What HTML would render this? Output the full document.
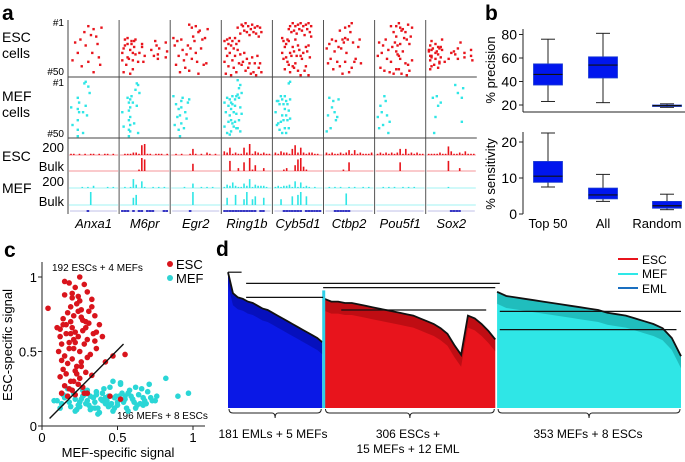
<!DOCTYPE html>
<html><head><meta charset="utf-8"><style>
html,body{margin:0;padding:0;background:#fff}
svg{display:block;font-family:"Liberation Sans",sans-serif}
</style></head><body>
<svg id="fig" width="685" height="462" viewBox="0 0 685 462" xmlns="http://www.w3.org/2000/svg">
<g id="pa">
<text x="2" y="20" font-size="21" font-weight="bold">a</text>
<text x="2" y="42" font-size="14">ESC</text>
<text x="2" y="58" font-size="14">cells</text>
<text x="2" y="101" font-size="14">MEF</text>
<text x="2" y="117" font-size="14">cells</text>
<text x="64" y="26" font-size="10" text-anchor="end">#1</text>
<text x="64" y="75" font-size="10" text-anchor="end">#50</text>
<text x="64" y="86" font-size="10" text-anchor="end">#1</text>
<text x="64" y="137" font-size="10" text-anchor="end">#50</text>
<text x="2" y="161" font-size="14">ESC</text>
<text x="64" y="152" font-size="13" text-anchor="end">200</text>
<text x="64" y="171" font-size="13" text-anchor="end">Bulk</text>
<text x="2" y="193" font-size="14">MEF</text>
<text x="64" y="186" font-size="13" text-anchor="end">200</text>
<text x="64" y="206" font-size="13" text-anchor="end">Bulk</text>
</g>
<g id="pb">
<text x="485" y="20" font-size="21" font-weight="bold">b</text>
<text transform="translate(495,70) rotate(-90)" font-size="13" text-anchor="middle">% precision</text>
<text transform="translate(495,174) rotate(-90)" font-size="13" text-anchor="middle">% sensitivity</text>
</g>
<g id="pc">
<text x="4" y="257" font-size="21" font-weight="bold">c</text>
<text transform="translate(12,345) rotate(-90)" font-size="13" text-anchor="middle">ESC-specific signal</text>
<text x="118" y="457" font-size="13" text-anchor="middle">MEF-specific signal</text>
<text x="52" y="271" font-size="10">192 ESCs + 4 MEFs</text>
<text x="117" y="419" font-size="10">196 MEFs + 8 ESCs</text>
<circle cx="170" cy="264" r="3" fill="#d9141c"/>
<text x="176" y="269" font-size="13">ESC</text>
<circle cx="170" cy="278" r="3" fill="#2fd3d3"/>
<text x="176" y="283" font-size="13">MEF</text>
</g>
<g id="pd">
<text x="216" y="256" font-size="21" font-weight="bold">d</text>
<line x1="618" y1="259" x2="638" y2="259" stroke="#e8141c" stroke-width="2"/>
<text x="642" y="264" font-size="12">ESC</text>
<line x1="618" y1="274" x2="638" y2="274" stroke="#2ee8e8" stroke-width="2"/>
<text x="642" y="278" font-size="12">MEF</text>
<line x1="618" y1="288" x2="638" y2="288" stroke="#1a6fc0" stroke-width="2"/>
<text x="642" y="293" font-size="12">EML</text>
<text x="273" y="438" font-size="12" text-anchor="middle">181 EMLs + 5 MEFs</text>
<text x="408" y="438" font-size="12" text-anchor="middle">306 ESCs +</text>
<text x="408" y="453" font-size="12" text-anchor="middle">15 MEFs + 12 EML</text>
<text x="588" y="438" font-size="12" text-anchor="middle">353 MEFs + 8 ESCs</text>
</g>
</svg>
<script>
// ---------- data ----------
const genes = ["Anxa1","M6pr","Egr2","Ring1b","Cyb5d1","Ctbp2","Pou5f1","Sox2"];
const escDots = ["1p3d5k7b8ta6bfd2dqf8gkh4hxj9kelnmsn3","0k1x2f3s4a5o6y7e8k8v9cab2bpc7cxdfe4eqf9gfgsh1hmi6iyjdkrlalomhmxn4nro8p0pgqcq","0a1f2s3c4m5x6b7i8p9ualbfc1cwdhe3eof9gchkh2iqj6jyk5lhmbnsoaprq4","0c0q1h1y2b2m3e3t4a4k5f5z6c6p7h7u8a8m9e9xa3aibcbrc7cld1dse2eqf5fkg0gwh6hoi2iuj8jrk4kyl1lnm6mxn3nro7ozp2pmq9qur3rrs6sx","5a5k6c6o7g7v8e8n9b9qa4acasb2bkbxc6cmd0dgdte5ejeuf2fbfrg7gmh1hfhwi4iij0jmjzk5kol2lkm8mwn1ngnto4ojp0pfpzq6qnr2r9","0h1r2e3o4b5v6j7c8q9ga5atbhcbcyddeae3eqfkgbh2hxi6j0jukdlqmoogpbqr","0m1d2u3k4f5w6b7o8i9xa2aqbgc6cyddeje2eve9ffflg0gmgvh3hehoi5iyj4jjkal6lrmbmzn1nsoeowp9q3qp","ab b2cod5e1f9g7gmh3h8hwi0iai2ijj0j6jrk5kkl7lwm1mrn2nmo5oxp8qhk2m9nfo1pcq8r4s2t7u1v5"];
const mefDots = ["0h1s5b5i5p5v5z6e6k9x9ka2b1bgcmd4e8","0k1t4b5e5j5p5v5z6c6h6n6s6w7a8e9ra6b2bgc3cxd8","0a1s2f3n4i4v5m5z6d6h6r7b8u9kaobeccc","0e0t1k2b2x3g3q4c4m4y5e5i5p5w6a6f6r7k7t8c8g8q9a9l9ua0a9aub5bbbpc3chcwd8dl","0k1d1s2d2r3f3v4a4q5c5m5x6f6p7a7i7u8d8m8x9f9pa2ajaub1bcbo","0w1m2b3u4h5d6k7p8n9c","0n1u2g3k4s5a6d7m8x9q","3b4x5n6a7g9ek3m8pbpqq5"];
const escAgg = ["11010101101011010","01112218911011101","01010015101021010","32612116291321211","21322158262122110","21211212414121112","12121212515121211","11112117311213111"];
const escBulk = ["00000000000000000","00000019800000000","00000005000000000","00700206091400200","00012004893100000","00000010600000000","00000000600000000","00000007000200000"];
const mefAgg = ["00001010200001010","01018306100101010","00001004001010100","13252114281322210","12122316151210100","01010100101001010","00101010010101000","00000001000000000"];
const mefBulk = ["00000009000000000","00005700000000000","00000009000000000","05007004904600500","00400060790600000","00000008000000000","00000000000000000","00000000000000000"];
const geneTrack = ["00000010000000000","11101011011100011","00000010000000000","11111111111101100","00011111110111111","00011111100000000","00000000000000000","00000000111100000"];

const bCats = ["Top 50","All","Random"];
const precLow = [23,22,18], precQ1 = [37,43,19], precMed = [46,54,19.5], precQ3 = [55,61,20], precHigh = [76,81,21];
const sensLow = [7.5,3.5,1.2], sensQ1 = [8.8,4.2,1.6], sensMed = [10.5,5.3,2.3], sensQ3 = [14.6,7.2,3.5], sensHigh = [22.5,11,5.5];
const precTicks = [20,40,60,80], sensTicks = [0,10,20];

const escX = [0.04,0.12,0.15,0.18,0.2,0.22,0.25,0.28,0.3,0.33,0.12,0.14,0.17,0.19,0.21,0.23,0.26,0.29,0.31,0.35,0.38,0.11,0.13,0.16,0.2,0.24,0.27,0.3,0.34,0.4,0.13,0.15,0.18,0.22,0.25,0.28,0.32,0.36,0.14,0.17,0.2,0.23,0.26,0.3,0.12,0.16,0.19,0.22,0.25,0.29,0.33,0.15,0.18,0.21,0.24,0.27,0.13,0.17,0.2,0.23,0.28,0.16,0.19,0.22,0.26,0.31,0.18,0.21,0.25,0.15,0.2,0.24,0.36,0.42,0.47,0.55,0.45,0.52,0.3,0.22,0.1,0.27,0.33,0.19,0.24,0.29,0.14,0.35,0.21,0.26];
const escY = [0.79,0.65,0.97,0.96,0.89,0.93,1.0,0.95,0.9,0.85,0.6,0.72,0.76,0.8,0.74,0.82,0.78,0.7,0.77,0.74,0.68,0.5,0.55,0.62,0.66,0.6,0.64,0.58,0.62,0.6,0.44,0.47,0.52,0.56,0.5,0.55,0.48,0.52,0.38,0.42,0.45,0.4,0.43,0.46,0.33,0.35,0.3,0.37,0.32,0.36,0.34,0.27,0.25,0.3,0.28,0.26,0.22,0.2,0.24,0.35,0.22,0.68,0.7,0.63,0.73,0.69,0.56,0.58,0.84,0.88,0.86,0.87,0.63,0.43,0.47,0.48,0.2,0.18,0.22,0.21,0.66,0.71,0.8,0.62,0.77,0.66,0.68,0.57,0.52,0.4];
const mefX = [0.1,0.13,0.16,0.19,0.22,0.25,0.28,0.31,0.34,0.37,0.4,0.43,0.46,0.49,0.52,0.55,0.58,0.61,0.64,0.67,0.7,0.73,0.76,0.82,0.9,0.97,0.12,0.15,0.18,0.21,0.24,0.27,0.3,0.33,0.36,0.39,0.42,0.45,0.48,0.51,0.54,0.57,0.6,0.63,0.66,0.69,0.72,0.75,0.2,0.23,0.26,0.29,0.32,0.35,0.38,0.41,0.44,0.47,0.5,0.53,0.56,0.59,0.62,0.65,0.68,0.71,0.17,0.22,0.27,0.32,0.37,0.42,0.47,0.52,0.57,0.62,0.67,0.25,0.3,0.35,0.4,0.45,0.5,0.55,0.6,0.08,0.14,0.44,0.48,0.36];
const mefY = [0.17,0.15,0.2,0.13,0.18,0.16,0.21,0.14,0.19,0.12,0.22,0.17,0.15,0.2,0.28,0.18,0.24,0.16,0.21,0.19,0.23,0.17,0.2,0.32,0.2,0.22,0.12,0.19,0.16,0.22,0.14,0.2,0.17,0.12,0.23,0.18,0.15,0.26,0.12,0.2,0.16,0.22,0.18,0.14,0.25,0.15,0.19,0.17,0.24,0.11,0.18,0.15,0.2,0.16,0.09,0.25,0.13,0.3,0.14,0.22,0.12,0.2,0.26,0.15,0.17,0.28,0.25,0.1,0.24,0.11,0.08,0.19,0.1,0.29,0.1,0.12,0.14,0.13,0.24,0.12,0.17,0.14,0.16,0.2,0.18,0.17,0.21,0.2,0.19,0.21];
const cTicks = [0,0.5,1];

const blueProfile = [0.97,0.82,0.79,0.78,0.76,0.75,0.73,0.71,0.7,0.68,0.66,0.64,0.62,0.6,0.58,0.56,0.54,0.52,0.5,0.47];
const redProfile = [0.78,0.76,0.76,0.75,0.75,0.74,0.73,0.72,0.71,0.7,0.69,0.68,0.67,0.66,0.64,0.62,0.6,0.57,0.53,0.45,0.38,0.66,0.64,0.6,0.55,0.49];
const cyanProfile = [0.83,0.8,0.79,0.78,0.77,0.76,0.75,0.74,0.73,0.72,0.71,0.7,0.68,0.67,0.66,0.64,0.62,0.6,0.57,0.5,0.37];
const linkStart = [0.0,0.04,0.21,0.04,0.6,0.25,0.6];
const linkEnd = [0.03,0.6,0.59,0.21,1.0,0.57,0.99];
const linkHeight = [0.97,0.89,0.86,0.79,0.69,0.7,0.56];

// ---------- helpers ----------
const NS = "http://www.w3.org/2000/svg";
function mk(parent, tag, attrs, name) {
  const el = document.createElementNS(NS, tag);
  for (const k in attrs) el.setAttribute(k, attrs[k]);
  
  
  parent.appendChild(el);
  return el;
}
const RED = "#e8141c", CYAN = "#2fe6e6", BLUE = "#0a18e6";

// ---------- panel a ----------
const pa = document.getElementById('pa');
const aX0 = 68, aW = 51.1, escTop = 20, mefTop = 77, mefBot = 138;
function colX(i){ return aX0 + i * aW; }
function dots(list, top, h, color, nm) {
  list.forEach((s, g) => {
    for (let k = 0; k + 1 < s.length; k += 2) {
      const vx = parseInt(s[k], 36), vy = parseInt(s[k+1], 36);
      if (isNaN(vx) || isNaN(vy)) continue;
      mk(pa, 'rect', {x: colX(g) + 2 + vx * (aW - 5) / 35, y: top + 2 + vy * (h - 5) / 35, width: 2.4, height: 2.4, fill: color}, nm);
    }
  });
}
dots(escDots, escTop, mefTop - escTop, RED, 'esc-cell-read');
dots(mefDots, mefTop, mefBot - mefTop, CYAN, 'mef-cell-read');
function track(list, base, maxH, color, nm) {
  list.forEach((s, g) => {
    mk(pa, 'line', {x1: colX(g)+1, x2: colX(g+1)-1, y1: base, y2: base, stroke: color, 'stroke-width': 0.8, opacity: 0.6}, nm + '-baseline');
    for (let i = 0; i < s.length; i++) {
      const v = parseInt(s[i], 10);
      if (!v) continue;
      const x = colX(g) + 3 + i * (aW - 6) / (s.length - 1);
      mk(pa, 'rect', {x: x - 0.8, y: base - v * maxH / 9, width: 1.6, height: v * maxH / 9, fill: color}, nm);
    }
  });
}
track(escAgg, 155, 11, RED, 'esc-aggregate-peak');
track(escBulk, 171, 13, RED, 'esc-bulk-peak');
track(mefAgg, 188, 10, CYAN, 'mef-aggregate-peak');
track(mefBulk, 205, 13, CYAN, 'mef-bulk-peak');
geneTrack.forEach((s, g) => {
  for (let i = 0; i < s.length; i++) {
    if (s[i] === '1') mk(pa, 'rect', {x: colX(g) + 2 + i * (aW - 4) / s.length, y: 210, width: 2.6, height: 2, fill: '#2020c0'}, 'gene-model-exon');
  }
  mk(pa, 'line', {x1: colX(g)+2, x2: colX(g+1)-2, y1: 211, y2: 211, stroke: '#8080d0', 'stroke-width': 0.5}, 'gene-model-line');
});
mk(pa, 'line', {x1: aX0, x2: aX0, y1: 20, y2: 214, stroke: '#444', 'stroke-width': 1}, 'panel-a-left-axis');
for (let g = 1; g < genes.length; g++) mk(pa, 'line', {x1: colX(g), x2: colX(g), y1: 20, y2: 214, stroke: '#555', 'stroke-width': 1}, 'gene-separator');
mk(pa, 'line', {x1: aX0, x2: colX(8), y1: mefTop, y2: mefTop, stroke: '#444', 'stroke-width': 1}, 'esc-mef-divider');
mk(pa, 'line', {x1: aX0, x2: colX(8), y1: mefBot, y2: mefBot, stroke: '#444', 'stroke-width': 1}, 'cells-tracks-divider');
genes.forEach((gname, g) => {
  const t = mk(pa, 'text', {x: colX(g) + aW/2, y: 228, 'font-size': 13, 'font-style': 'italic', 'text-anchor': 'middle'}, 'gene-label');
  t.textContent = gname;
});

// ---------- panel b ----------
const pb = document.getElementById('pb');
const bAxisX = 523;
const bCenters = [548, 603, 667];
function yPrec(v){ return 105 - (v - 20) * 23.5 / 20; }
function ySens(v){ return 214 - v * 3.6; }
function boxPlot(lo, q1, med, q3, hi, ys, nm) {
  bCats.forEach((c, i) => {
    const bx = bCenters[i], w = 29;
    mk(pb, 'line', {x1: bx, x2: bx, y1: ys(hi[i]), y2: ys(lo[i]), stroke: '#222', 'stroke-width': 1}, nm + '-whisker');
    mk(pb, 'line', {x1: bx-7, x2: bx+7, y1: ys(hi[i]), y2: ys(hi[i]), stroke: '#222', 'stroke-width': 1}, nm + '-cap-high');
    mk(pb, 'line', {x1: bx-7, x2: bx+7, y1: ys(lo[i]), y2: ys(lo[i]), stroke: '#222', 'stroke-width': 1}, nm + '-cap-low');
    mk(pb, 'rect', {x: bx - w/2, y: ys(q3[i]), width: w, height: Math.max(1.5, ys(q1[i]) - ys(q3[i])), fill: '#0016ee', stroke: '#1a3bd0', 'stroke-width': 0.8}, nm + '-box');
    mk(pb, 'line', {x1: bx - w/2, x2: bx + w/2, y1: ys(med[i]), y2: ys(med[i]), stroke: '#111', 'stroke-width': 1.2}, nm + '-median');
  });
}
mk(pb, 'line', {x1: bAxisX, x2: bAxisX, y1: 29, y2: 112, stroke: '#222', 'stroke-width': 1}, 'precision-y-axis');
mk(pb, 'line', {x1: bAxisX, x2: 685, y1: 112, y2: 112, stroke: '#222', 'stroke-width': 1}, 'precision-x-axis');
precTicks.forEach(v => {
  mk(pb, 'line', {x1: bAxisX - 4, x2: bAxisX, y1: yPrec(v), y2: yPrec(v), stroke: '#222'}, 'precision-tick');
  const t = mk(pb, 'text', {x: bAxisX - 6, y: yPrec(v) + 5, 'font-size': 14, 'text-anchor': 'end'}, 'precision-tick-label');
  t.textContent = v;
});
boxPlot(precLow, precQ1, precMed, precQ3, precHigh, yPrec, 'precision');
mk(pb, 'line', {x1: bAxisX, x2: bAxisX, y1: 132, y2: 214, stroke: '#222', 'stroke-width': 1}, 'sensitivity-y-axis');
sensTicks.forEach(v => {
  mk(pb, 'line', {x1: bAxisX - 4, x2: bAxisX, y1: ySens(v), y2: ySens(v), stroke: '#222'}, 'sensitivity-tick');
  const t = mk(pb, 'text', {x: bAxisX - 6, y: ySens(v) + 5, 'font-size': 14, 'text-anchor': 'end'}, 'sensitivity-tick-label');
  t.textContent = v;
});
boxPlot(sensLow, sensQ1, sensMed, sensQ3, sensHigh, ySens, 'sensitivity');
bCats.forEach((c, i) => {
  const t = mk(pb, 'text', {x: Math.min(bCenters[i], 657), y: 228, 'font-size': 13, 'text-anchor': 'middle'}, 'category-label');
  t.textContent = c;
});

// ---------- panel c ----------
const pc = document.getElementById('pc');
function cxs(v){ return 42 + v * 151; }
function cys(v){ return 426 - v * 149; }
mk(pc, 'line', {x1: 42, x2: 42, y1: 262, y2: 426, stroke: '#222'}, 'c-y-axis');
mk(pc, 'line', {x1: 42, x2: 205, y1: 426, y2: 426, stroke: '#222'}, 'c-x-axis');
cTicks.forEach(v => {
  mk(pc, 'line', {x1: cxs(v), x2: cxs(v), y1: 426, y2: 430, stroke: '#222'}, 'c-x-tick');
  const t = mk(pc, 'text', {x: cxs(v), y: 442, 'font-size': 13, 'text-anchor': 'middle'}, 'c-x-tick-label');
  t.textContent = v;
  mk(pc, 'line', {x1: 38, x2: 42, y1: cys(v), y2: cys(v), stroke: '#222'}, 'c-y-tick');
  const u = mk(pc, 'text', {x: 37, y: cys(v) + 5, 'font-size': 13, 'text-anchor': 'end'}, 'c-y-tick-label');
  u.textContent = v;
});
const nM = Math.min(mefX.length, mefY.length);
for (let i = 0; i < nM; i++) mk(pc, 'circle', {cx: cxs(mefX[i]), cy: cys(mefY[i]), r: 2.8, fill: '#2ad6d6'}, 'mef-point');
const nE = Math.min(escX.length, escY.length);
for (let i = 0; i < nE; i++) mk(pc, 'circle', {cx: cxs(escX[i]), cy: cys(escY[i]), r: 2.8, fill: '#d9141c'}, 'esc-point');
mk(pc, 'line', {x1: cxs(0.05), y1: cys(0.05), x2: cxs(0.54), y2: cys(0.55), stroke: '#111', 'stroke-width': 1.4}, 'classifier-boundary');

// ---------- panel d ----------
const pd = document.getElementById('pd');
const dX0 = 228, dX1 = 681, dBase = 408, dH = 140;
function dx(f){ return dX0 + f * (dX1 - dX0); }
function dy(v){ return dBase - v * dH; }
function cluster(profile, f0, f1, color, dark, nm) {
  const n = profile.length, step = (f1 - f0) / (n - 1);
  const tops = profile.map((v, i) => [dx(f0 + i*step), dy(v)]);
  let pts = dx(f0) + ',' + dBase + ' ';
  tops.forEach(p => { pts += p[0] + ',' + p[1] + ' '; });
  pts += dx(f1) + ',' + dBase;
  mk(pd, 'polygon', {points: pts, fill: color}, nm + '-leaves');
  let band = '';
  tops.forEach(p => { band += p[0] + ',' + p[1] + ' '; });
  for (let i = tops.length - 1; i >= 0; i--) band += tops[i][0] + ',' + (tops[i][1] + 12) + ' ';
  mk(pd, 'polygon', {points: band, fill: dark, opacity: 0.3}, nm + '-branch-shade');
  let line = '';
  tops.forEach(p => { line += p[0] + ',' + p[1] + ' '; });
  mk(pd, 'polyline', {points: line, fill: 'none', stroke: '#111', 'stroke-width': 1.8}, nm + '-branch-outline');
}
cluster(blueProfile, 0, 0.208, BLUE, '#000060', 'eml-cluster');
cluster(redProfile, 0.213, 0.59, RED, '#600000', 'esc-cluster');
cluster(cyanProfile, 0.594, 1.0, CYAN, '#006060', 'mef-cluster');
mk(pd, 'rect', {x: dx(0.208), y: dy(0.84), width: 3, height: dy(0) - dy(0.84), fill: '#30d0e8'}, 'mef-outliers-in-eml');
for (let i = 0; i < linkStart.length; i++) {
  mk(pd, 'line', {x1: dx(linkStart[i]), x2: dx(linkEnd[i]), y1: dy(linkHeight[i]), y2: dy(linkHeight[i]), stroke: '#111', 'stroke-width': 1.2}, 'dendrogram-link');
}
const brackets = [[0, 0.208], [0.213, 0.59], [0.594, 1.0]];
brackets.forEach(b => {
  const a = dx(b[0]) + 1, c = dx(b[1]) - 1, m = (a + c) / 2;
  mk(pd, 'path', {d: 'M' + a + ',409 Q' + a + ',413 ' + (a+4) + ',413 L' + (m-3) + ',413 Q' + m + ',413 ' + m + ',418 Q' + m + ',413 ' + (m+3) + ',413 L' + (c-4) + ',413 Q' + c + ',413 ' + c + ',409', fill: 'none', stroke: '#222', 'stroke-width': 1}, 'cluster-bracket');
});
</script>
</body></html>
